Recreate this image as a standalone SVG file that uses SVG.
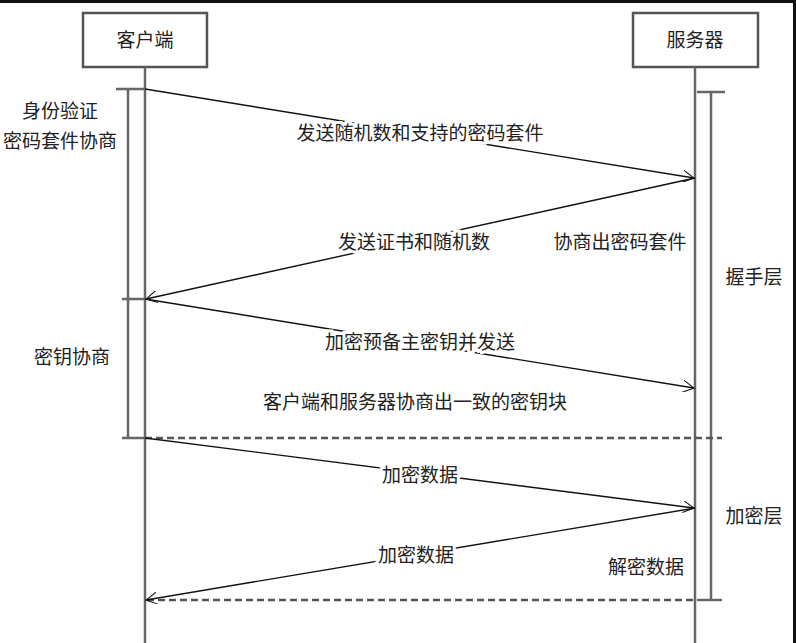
<svg xmlns="http://www.w3.org/2000/svg" width="796" height="643" viewBox="0 0 796 643">
<defs>
<style>
text{font-family:"Noto Sans CJK SC","Liberation Sans",sans-serif;font-size:19px;fill:#222;text-anchor:middle}
.box{fill:#fff;stroke:#555;stroke-width:2.5}
.life{stroke:#666;stroke-width:2.5;fill:none}
.msg{stroke:#111;stroke-width:1.4;fill:none;marker-end:url(#arr)}
.lbl{paint-order:stroke;stroke:#fff;stroke-width:6px}
.dash{stroke:#555;stroke-width:2.5;stroke-dasharray:7,4;fill:none}
</style>
<marker id="arr" viewBox="0 0 12 12" refX="11" refY="6" markerWidth="12" markerHeight="12" markerUnits="userSpaceOnUse" orient="auto"><path d="M0,0 L11,6 L0,12" fill="none" stroke="#111" stroke-width="1"/></marker>
</defs>
<rect width="796" height="643" fill="#fff"/>
<rect x="0" y="0" width="796" height="3" fill="#111"/>
<rect x="793" y="0" width="3" height="643" fill="#111"/>
<g id="client"><rect class="box" x="83" y="13" width="124" height="54"/><text x="145" y="47">客户端</text></g>
<g id="server"><rect class="box" x="633" y="13" width="125" height="54"/><text x="695" y="47">服务器</text></g>
<g id="lifelines">
<line class="life" x1="145" y1="67" x2="145" y2="643"/>
<line class="life" x1="695" y1="67" x2="695" y2="643"/>
</g>
<g id="brackets">
<path class="life" d="M116,89 H145 M128,89 V438 M122,299 H145 M122,438 H145"/>
<path class="life" d="M697,92 H725 M711,92 V600 M697,600 H722"/>
<line class="dash" x1="145" y1="438" x2="722" y2="438"/>
<line class="dash" x1="147" y1="600" x2="697" y2="600"/>
</g>
<g id="connectors">
<line class="msg" x1="145" y1="89" x2="694" y2="178"/>
<line class="msg" x1="695" y1="178" x2="146" y2="299"/>
<line class="msg" x1="145" y1="299" x2="694" y2="388"/>
<line class="msg" x1="145" y1="438" x2="694" y2="508"/>
<line class="msg" x1="695" y1="508" x2="146" y2="600"/>
</g>
<g id="labels">
<text class="lbl" x="420" y="140">发送随机数和支持的密码套件</text>
<text class="lbl" x="414" y="249">发送证书和随机数</text>
<text class="lbl" x="420" y="349">加密预备主密钥并发送</text>
<text class="lbl" x="420" y="482">加密数据</text>
<text class="lbl" x="416" y="562">加密数据</text>
<text x="60" y="118">身份验证</text>
<text x="60" y="148">密码套件协商</text>
<text x="620" y="249">协商出密码套件</text>
<text x="754" y="284">握手层</text>
<text x="72" y="364">密钥协商</text>
<text x="415" y="409">客户端和服务器协商出一致的密钥块</text>
<text x="754" y="523">加密层</text>
<text x="646" y="574">解密数据</text>
</g>
</svg>
